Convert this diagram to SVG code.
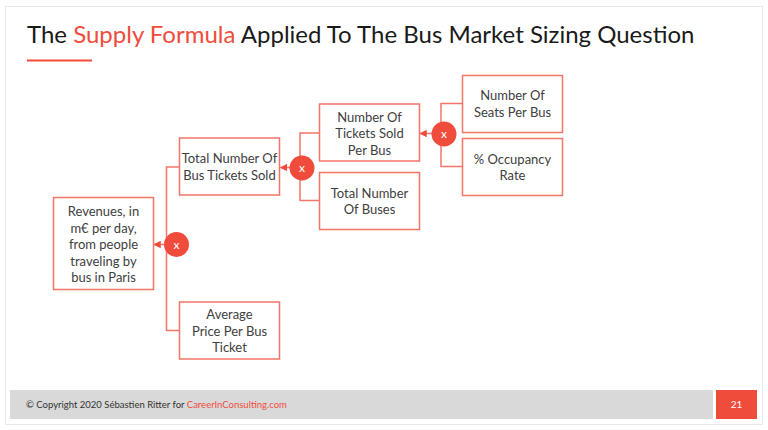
<svg xmlns="http://www.w3.org/2000/svg" width="768" height="430" viewBox="0 0 768 430">
<defs>
<style>
.box{fill:#fff;stroke:#f37569;stroke-width:1.5}
.lbl{font-family:"Lato","Liberation Sans",sans-serif;font-size:13px;fill:#404040;text-anchor:middle}
.conn{fill:none;stroke:#f37569;stroke-width:1.5}
.op{fill:#ef4c3c}
.opt{font-family:"Lato","Liberation Sans",sans-serif;font-size:12px;fill:#fff;text-anchor:middle}
</style>
<marker id="ah" viewBox="0 0 10 10" refX="9" refY="5" markerWidth="5" markerHeight="5" orient="auto">
<path d="M0,0 L10,5 L0,10 z" fill="#ef4c3c"/>
</marker>
</defs>
<rect x="0" y="0" width="768" height="430" fill="#fff"/>
<rect x="5.5" y="6.5" width="757" height="418" fill="#fff" stroke="#e8e8e8" stroke-width="1"/>
<text x="27" y="43" font-family="Lato,'Liberation Sans',sans-serif" font-size="24" fill="#1a1a1a">The <tspan fill="#ef4c3c">Supply Formula</tspan> Applied To The Bus Market Sizing Question</text>
<rect x="27" y="59.5" width="65" height="2" fill="#ef4c3c"/>

<g id="connectors">
<path class="conn" d="M180,167 H166.5 V330.5 H180"/>
<path class="conn" d="M164.5,244.5 H154" marker-end="url(#ah)"/>
<path class="conn" d="M319,133 H300 V200.5 H319"/>
<path class="conn" d="M290,167.5 H280.5" marker-end="url(#ah)"/>
<path class="conn" d="M462,103.5 H441 V166.5 H462"/>
<path class="conn" d="M432,133.5 H420" marker-end="url(#ah)"/>
</g>

<g id="revenues">
<rect class="box" x="53.5" y="197.5" width="100" height="92"/>
<text class="lbl" x="103.5" y="216">Revenues, in</text>
<text class="lbl" x="103.5" y="232.5">m€ per day,</text>
<text class="lbl" x="103.5" y="249">from people</text>
<text class="lbl" x="103.5" y="265.5">traveling by</text>
<text class="lbl" x="103.5" y="282">bus in Paris</text>
</g>
<g id="op1">
<circle class="op" cx="176.5" cy="244.5" r="12.5"/>
<text class="opt" x="176.5" y="248.5">x</text>
</g>
<g id="total-tickets">
<rect class="box" x="179.5" y="138" width="100" height="57"/>
<text class="lbl" x="229.5" y="163">Total Number Of</text>
<text class="lbl" x="229.5" y="179.5">Bus Tickets Sold</text>
</g>
<g id="avg-price">
<rect class="box" x="179.5" y="302" width="100" height="57"/>
<text class="lbl" x="229.5" y="319">Average</text>
<text class="lbl" x="229.5" y="335.5">Price Per Bus</text>
<text class="lbl" x="229.5" y="352">Ticket</text>
</g>
<g id="op2">
<circle class="op" cx="302" cy="168" r="12.5"/>
<text class="opt" x="302" y="172">x</text>
</g>
<g id="tickets-per-bus">
<rect class="box" x="319.5" y="104" width="100" height="57"/>
<text class="lbl" x="369.5" y="121.5">Number Of</text>
<text class="lbl" x="369.5" y="138">Tickets Sold</text>
<text class="lbl" x="369.5" y="154.5">Per Bus</text>
</g>
<g id="total-buses">
<rect class="box" x="319.5" y="172.5" width="100" height="57"/>
<text class="lbl" x="369.5" y="197.5">Total Number</text>
<text class="lbl" x="369.5" y="214">Of Buses</text>
</g>
<g id="op3">
<circle class="op" cx="444" cy="134" r="12.5"/>
<text class="opt" x="444" y="138">x</text>
</g>
<g id="seats">
<rect class="box" x="462.5" y="75.5" width="100" height="57"/>
<text class="lbl" x="512.5" y="100">Number Of</text>
<text class="lbl" x="512.5" y="116.5">Seats Per Bus</text>
</g>
<g id="occupancy">
<rect class="box" x="462.5" y="138.5" width="100" height="57"/>
<text class="lbl" x="512.5" y="163.5">% Occupancy</text>
<text class="lbl" x="512.5" y="180">Rate</text>
</g>

<g id="footer">
<rect x="10" y="390" width="703" height="29" fill="#d9d9d9"/>
<rect x="716" y="390" width="41" height="29" fill="#ef4c3c"/>
<text x="26" y="408" font-family="Lato,'Liberation Sans',sans-serif" font-size="9.5" fill="#333">© Copyright 2020 Sébastien Ritter for <tspan fill="#ef4c3c">CareerInConsulting.com</tspan></text>
<text x="736.5" y="408" font-family="Lato,'Liberation Sans',sans-serif" font-size="10" fill="#fff" text-anchor="middle">21</text>
</g>
</svg>
